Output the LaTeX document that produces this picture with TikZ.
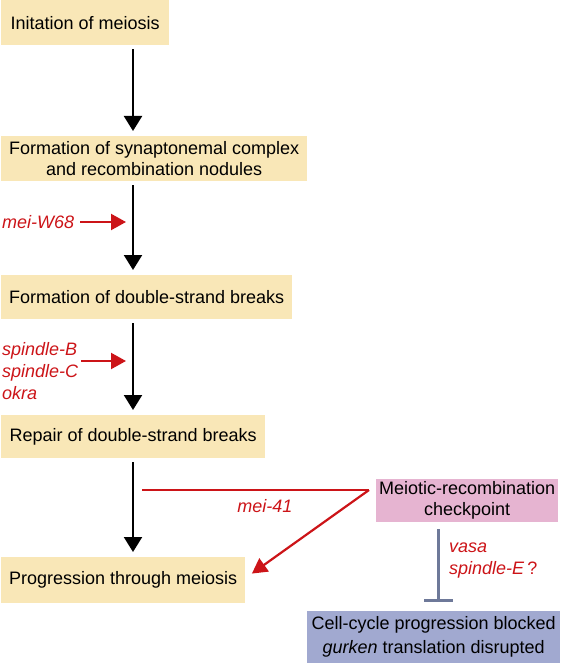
\documentclass[tikz,border=0pt]{standalone}
\usepackage{fontspec}
\setmainfont{Liberation Sans}
\usepackage{tikz}
\usetikzlibrary{arrows.meta, positioning, calc}
\definecolor{stagefill}{HTML}{F9E7B7}
\definecolor{checkfill}{HTML}{E6B4D1}
\definecolor{blockfill}{HTML}{A1A9D0}
\definecolor{genered}{HTML}{CC1418}
\definecolor{bargray}{HTML}{6E7999}

\begin{document}
\begin{tikzpicture}[x=1pt, y=-1pt,
    stage/.style={rectangle, fill=stagefill, inner sep=0pt, anchor=north west,
                  minimum height=45pt, align=center,
                  font=\fontsize{18}{21}\selectfont},
    gene/.style={text=genered, inner sep=2pt, align=left,
                 font=\fontsize{18}{22}\selectfont\itshape},
    flow/.style={-{Triangle[length=15pt, width=18pt]}, line width=2.2pt,
                 shorten <=4pt, shorten >=5pt},
    activate/.style={-{Triangle[length=15pt, width=16pt]}, line width=2.2pt,
                     color=genered},
    block/.style={-{Bar[width=29pt]}, line width=3pt, color=bargray}
  ]
    \useasboundingbox (0,0) rectangle (560,663);

    % Stages
    \node[stage, minimum width=168pt] (init) at (1,0) {Initation of meiosis};
    \node[stage, minimum width=306pt] (synapsis) at (1,136)
      {Formation of synaptonemal complex\\and recombination nodules};
    \node[stage, minimum width=291pt, minimum height=44pt] (dsb) at (1,275)
      {Formation of double-strand breaks};
    \node[stage, minimum width=264pt, minimum height=43pt] (repair) at (1,415)
      {Repair of double-strand breaks};
    \node[stage, minimum width=244pt, minimum height=46pt] (progress) at (1,557)
      {Progression through meiosis};

    % Checkpoint (right side)
    \node[stage, fill=checkfill, minimum width=182pt, minimum height=43pt]
      (checkpoint) at (376,479) {Meiotic-recombination\\checkpoint};
    \node[stage, fill=blockfill, minimum width=253pt, minimum height=52pt,
          font=\fontsize{18}{24}\selectfont]
      (blocked) at (307,611)
      {Cell-cycle progression blocked\\\textit{gurken} translation disrupted};

    % Main pathway
    \coordinate (spine) at (133,0);
    \draw[flow] (init.south -| spine) -- (synapsis.north -| spine);
    \draw[flow] (synapsis.south -| spine) -- (dsb.north -| spine);
    \draw[flow] (dsb.south -| spine) -- (repair.north -| spine);
    \draw[flow] (repair.south -| spine) -- (progress.north -| spine);

    % Genes
    \node[gene, anchor=west] (meiw) at (0,222) {mei-W68};
    \coordinate (meiwtip) at (126,222);
    \draw[activate, shorten <=4pt] (meiw.east) -- (meiwtip);

    \node[gene, anchor=west] (spindles) at (0,371) {spindle-B\\spindle-C\\okra};
    \coordinate (spindletip) at (126,361);
    \draw[activate, shorten <=1pt] (spindles.east |- spindletip) -- (spindletip);

    \coordinate (fork) at (369,490);
    \draw[activate, -] (fork) -- (fork -| spine) [shorten >=9pt];
    \node[gene] (mei41) at (265,506) {mei-41};
    \draw[activate, shorten >=8pt] (fork) -- ($(progress.east)+(0,-2)$);

    \coordinate (blockx) at (438,0);
    \draw[block, shorten <=7pt, shorten >=9pt]
      (checkpoint.south -| blockx) -- (blocked.north -| blockx);
    \node[gene, anchor=west] (vasa) at (447,561)
      {\textit{vasa}\\\textit{spindle-E}\,\upshape ?};
  \end{tikzpicture}
\end{document}
